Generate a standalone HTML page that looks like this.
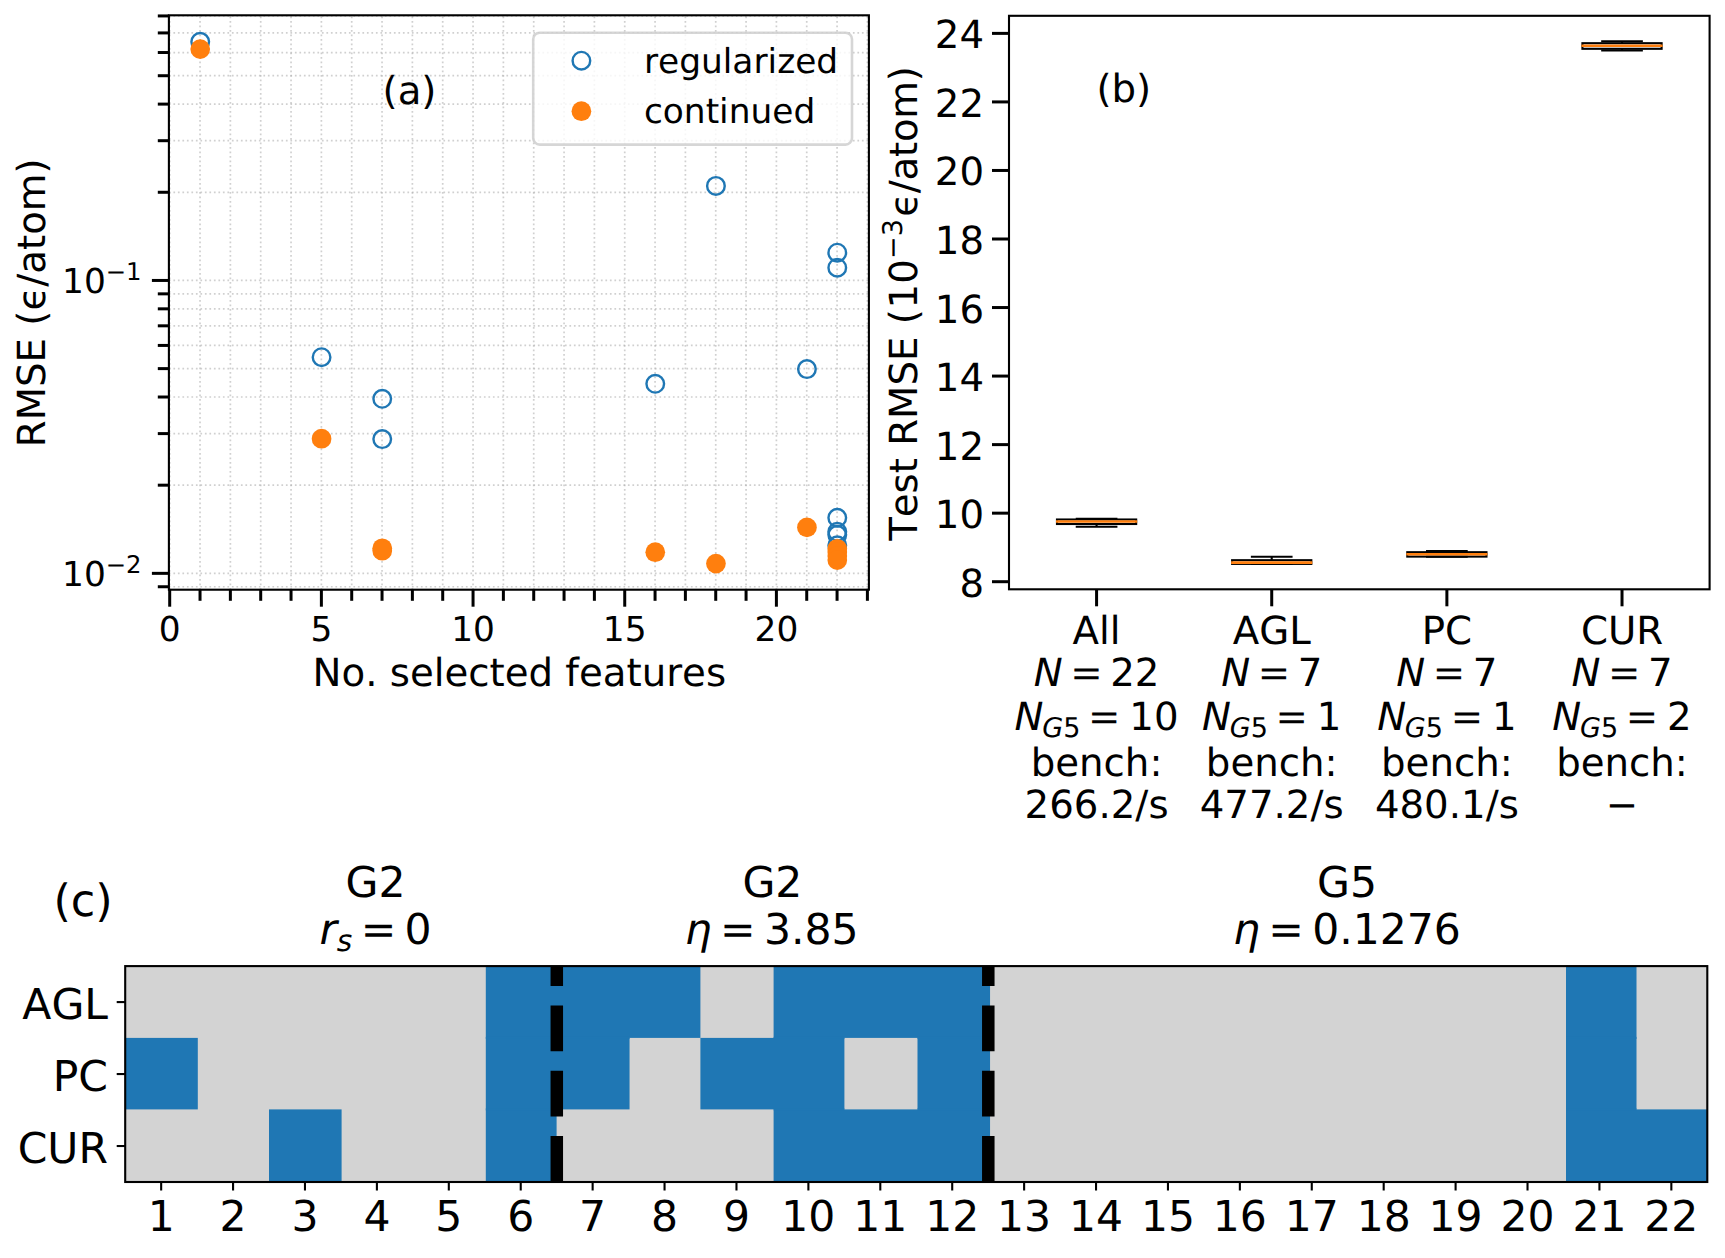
<!DOCTYPE html>
<html lang="en"><head><meta charset="utf-8"><title>Feature selection figure</title>
<style>
html,body{margin:0;padding:0;background:#fff;overflow:hidden;}
svg{display:block;}
svg text{font-family:"DejaVu Sans", "Liberation Sans", sans-serif;fill:#000;font-kerning:none;font-variant-ligatures:none;text-rendering:geometricPrecision;}
</style></head><body>
<svg width="1725" height="1258" viewBox="0 0 1725 1258">
<rect width="1725" height="1258" fill="#fff"/>
<g id="panel-a">
<g stroke="#b0b0b0" stroke-opacity="0.6" stroke-width="1.7" stroke-dasharray="1.7 2.8" fill="none">
<line x1="169.70" y1="589.7" x2="169.70" y2="15.3"/>
<line x1="200.03" y1="589.7" x2="200.03" y2="15.3"/>
<line x1="230.37" y1="589.7" x2="230.37" y2="15.3"/>
<line x1="260.70" y1="589.7" x2="260.70" y2="15.3"/>
<line x1="291.04" y1="589.7" x2="291.04" y2="15.3"/>
<line x1="321.38" y1="589.7" x2="321.38" y2="15.3"/>
<line x1="351.71" y1="589.7" x2="351.71" y2="15.3"/>
<line x1="382.04" y1="589.7" x2="382.04" y2="15.3"/>
<line x1="412.38" y1="589.7" x2="412.38" y2="15.3"/>
<line x1="442.71" y1="589.7" x2="442.71" y2="15.3"/>
<line x1="473.05" y1="589.7" x2="473.05" y2="15.3"/>
<line x1="503.38" y1="589.7" x2="503.38" y2="15.3"/>
<line x1="533.72" y1="589.7" x2="533.72" y2="15.3"/>
<line x1="564.06" y1="589.7" x2="564.06" y2="15.3"/>
<line x1="594.39" y1="589.7" x2="594.39" y2="15.3"/>
<line x1="624.73" y1="589.7" x2="624.73" y2="15.3"/>
<line x1="655.06" y1="589.7" x2="655.06" y2="15.3"/>
<line x1="685.39" y1="589.7" x2="685.39" y2="15.3"/>
<line x1="715.73" y1="589.7" x2="715.73" y2="15.3"/>
<line x1="746.07" y1="589.7" x2="746.07" y2="15.3"/>
<line x1="776.40" y1="589.7" x2="776.40" y2="15.3"/>
<line x1="806.73" y1="589.7" x2="806.73" y2="15.3"/>
<line x1="837.07" y1="589.7" x2="837.07" y2="15.3"/>
<line x1="867.40" y1="589.7" x2="867.40" y2="15.3"/>
<line x1="168.9" y1="586.75" x2="868.9" y2="586.75"/>
<line x1="168.9" y1="485.18" x2="868.9" y2="485.18"/>
<line x1="168.9" y1="433.60" x2="868.9" y2="433.60"/>
<line x1="168.9" y1="397.01" x2="868.9" y2="397.01"/>
<line x1="168.9" y1="368.62" x2="868.9" y2="368.62"/>
<line x1="168.9" y1="345.43" x2="868.9" y2="345.43"/>
<line x1="168.9" y1="325.82" x2="868.9" y2="325.82"/>
<line x1="168.9" y1="308.83" x2="868.9" y2="308.83"/>
<line x1="168.9" y1="293.85" x2="868.9" y2="293.85"/>
<line x1="168.9" y1="192.28" x2="868.9" y2="192.28"/>
<line x1="168.9" y1="140.70" x2="868.9" y2="140.70"/>
<line x1="168.9" y1="104.11" x2="868.9" y2="104.11"/>
<line x1="168.9" y1="75.72" x2="868.9" y2="75.72"/>
<line x1="168.9" y1="52.53" x2="868.9" y2="52.53"/>
<line x1="168.9" y1="32.92" x2="868.9" y2="32.92"/>
<line x1="168.9" y1="15.93" x2="868.9" y2="15.93"/>
<line x1="168.9" y1="573.35" x2="868.9" y2="573.35"/>
<line x1="168.9" y1="280.45" x2="868.9" y2="280.45"/>
</g>
<circle cx="200.23" cy="41.8" r="8.8" fill="none" stroke="#1f77b4" stroke-width="2.4"/>
<circle cx="321.57" cy="357.2" r="8.8" fill="none" stroke="#1f77b4" stroke-width="2.4"/>
<circle cx="382.24" cy="398.8" r="8.8" fill="none" stroke="#1f77b4" stroke-width="2.4"/>
<circle cx="382.24" cy="439.1" r="8.8" fill="none" stroke="#1f77b4" stroke-width="2.4"/>
<circle cx="655.26" cy="383.8" r="8.8" fill="none" stroke="#1f77b4" stroke-width="2.4"/>
<circle cx="715.93" cy="185.9" r="8.8" fill="none" stroke="#1f77b4" stroke-width="2.4"/>
<circle cx="806.93" cy="369.1" r="8.8" fill="none" stroke="#1f77b4" stroke-width="2.4"/>
<circle cx="837.27" cy="252.7" r="8.8" fill="none" stroke="#1f77b4" stroke-width="2.4"/>
<circle cx="837.27" cy="267.7" r="8.8" fill="none" stroke="#1f77b4" stroke-width="2.4"/>
<circle cx="837.27" cy="517.8" r="8.8" fill="none" stroke="#1f77b4" stroke-width="2.4"/>
<circle cx="837.27" cy="531.8" r="8.8" fill="none" stroke="#1f77b4" stroke-width="2.4"/>
<circle cx="837.27" cy="534.8" r="8.8" fill="none" stroke="#1f77b4" stroke-width="2.4"/>
<circle cx="837.27" cy="545.3" r="8.8" fill="none" stroke="#1f77b4" stroke-width="2.4"/>
<circle cx="200.23" cy="49.1" r="9.85" fill="#ff7f0e"/>
<circle cx="321.57" cy="438.7" r="9.85" fill="#ff7f0e"/>
<circle cx="382.24" cy="548.3" r="9.85" fill="#ff7f0e"/>
<circle cx="382.24" cy="550.7" r="9.85" fill="#ff7f0e"/>
<circle cx="655.26" cy="552.2" r="9.85" fill="#ff7f0e"/>
<circle cx="715.93" cy="563.6" r="9.85" fill="#ff7f0e"/>
<circle cx="806.93" cy="527.4" r="9.85" fill="#ff7f0e"/>
<circle cx="837.27" cy="548.8" r="9.85" fill="#ff7f0e"/>
<circle cx="837.27" cy="552" r="9.85" fill="#ff7f0e"/>
<circle cx="837.27" cy="556" r="9.85" fill="#ff7f0e"/>
<circle cx="837.27" cy="560.1" r="9.85" fill="#ff7f0e"/>
<line x1="169.70" y1="589.70" x2="169.70" y2="606.70" stroke="#000" stroke-width="3.0"/>
<line x1="200.03" y1="589.70" x2="200.03" y2="600.80" stroke="#000" stroke-width="3.0"/>
<line x1="230.37" y1="589.70" x2="230.37" y2="600.80" stroke="#000" stroke-width="3.0"/>
<line x1="260.70" y1="589.70" x2="260.70" y2="600.80" stroke="#000" stroke-width="3.0"/>
<line x1="291.04" y1="589.70" x2="291.04" y2="600.80" stroke="#000" stroke-width="3.0"/>
<line x1="321.38" y1="589.70" x2="321.38" y2="606.70" stroke="#000" stroke-width="3.0"/>
<line x1="351.71" y1="589.70" x2="351.71" y2="600.80" stroke="#000" stroke-width="3.0"/>
<line x1="382.04" y1="589.70" x2="382.04" y2="600.80" stroke="#000" stroke-width="3.0"/>
<line x1="412.38" y1="589.70" x2="412.38" y2="600.80" stroke="#000" stroke-width="3.0"/>
<line x1="442.71" y1="589.70" x2="442.71" y2="600.80" stroke="#000" stroke-width="3.0"/>
<line x1="473.05" y1="589.70" x2="473.05" y2="606.70" stroke="#000" stroke-width="3.0"/>
<line x1="503.38" y1="589.70" x2="503.38" y2="600.80" stroke="#000" stroke-width="3.0"/>
<line x1="533.72" y1="589.70" x2="533.72" y2="600.80" stroke="#000" stroke-width="3.0"/>
<line x1="564.06" y1="589.70" x2="564.06" y2="600.80" stroke="#000" stroke-width="3.0"/>
<line x1="594.39" y1="589.70" x2="594.39" y2="600.80" stroke="#000" stroke-width="3.0"/>
<line x1="624.73" y1="589.70" x2="624.73" y2="606.70" stroke="#000" stroke-width="3.0"/>
<line x1="655.06" y1="589.70" x2="655.06" y2="600.80" stroke="#000" stroke-width="3.0"/>
<line x1="685.39" y1="589.70" x2="685.39" y2="600.80" stroke="#000" stroke-width="3.0"/>
<line x1="715.73" y1="589.70" x2="715.73" y2="600.80" stroke="#000" stroke-width="3.0"/>
<line x1="746.07" y1="589.70" x2="746.07" y2="600.80" stroke="#000" stroke-width="3.0"/>
<line x1="776.40" y1="589.70" x2="776.40" y2="606.70" stroke="#000" stroke-width="3.0"/>
<line x1="806.73" y1="589.70" x2="806.73" y2="600.80" stroke="#000" stroke-width="3.0"/>
<line x1="837.07" y1="589.70" x2="837.07" y2="600.80" stroke="#000" stroke-width="3.0"/>
<line x1="867.40" y1="589.70" x2="867.40" y2="600.80" stroke="#000" stroke-width="3.0"/>
<line x1="168.90" y1="586.75" x2="157.80" y2="586.75" stroke="#000" stroke-width="3.0"/>
<line x1="168.90" y1="485.18" x2="157.80" y2="485.18" stroke="#000" stroke-width="3.0"/>
<line x1="168.90" y1="433.60" x2="157.80" y2="433.60" stroke="#000" stroke-width="3.0"/>
<line x1="168.90" y1="397.01" x2="157.80" y2="397.01" stroke="#000" stroke-width="3.0"/>
<line x1="168.90" y1="368.62" x2="157.80" y2="368.62" stroke="#000" stroke-width="3.0"/>
<line x1="168.90" y1="345.43" x2="157.80" y2="345.43" stroke="#000" stroke-width="3.0"/>
<line x1="168.90" y1="325.82" x2="157.80" y2="325.82" stroke="#000" stroke-width="3.0"/>
<line x1="168.90" y1="308.83" x2="157.80" y2="308.83" stroke="#000" stroke-width="3.0"/>
<line x1="168.90" y1="293.85" x2="157.80" y2="293.85" stroke="#000" stroke-width="3.0"/>
<line x1="168.90" y1="192.28" x2="157.80" y2="192.28" stroke="#000" stroke-width="3.0"/>
<line x1="168.90" y1="140.70" x2="157.80" y2="140.70" stroke="#000" stroke-width="3.0"/>
<line x1="168.90" y1="104.11" x2="157.80" y2="104.11" stroke="#000" stroke-width="3.0"/>
<line x1="168.90" y1="75.72" x2="157.80" y2="75.72" stroke="#000" stroke-width="3.0"/>
<line x1="168.90" y1="52.53" x2="157.80" y2="52.53" stroke="#000" stroke-width="3.0"/>
<line x1="168.90" y1="32.92" x2="157.80" y2="32.92" stroke="#000" stroke-width="3.0"/>
<line x1="168.90" y1="15.93" x2="157.80" y2="15.93" stroke="#000" stroke-width="3.0"/>
<line x1="168.90" y1="573.35" x2="151.90" y2="573.35" stroke="#000" stroke-width="3.0"/>
<line x1="168.90" y1="280.45" x2="151.90" y2="280.45" stroke="#000" stroke-width="3.0"/>
<rect x="168.9" y="15.3" width="700.0" height="574.4000000000001" fill="none" stroke="#000" stroke-width="2.1"/>
<text x="169.70" y="640.90" font-size="34.4" text-anchor="middle">0</text>
<text x="321.38" y="640.90" font-size="34.4" text-anchor="middle">5</text>
<text x="473.05" y="640.90" font-size="34.4" text-anchor="middle">10</text>
<text x="624.73" y="640.90" font-size="34.4" text-anchor="middle">15</text>
<text x="776.40" y="640.90" font-size="34.4" text-anchor="middle">20</text>
<text x="62.10" y="293.05" font-size="34.4" text-anchor="start">10</text>
<text x="105.70" y="280.05" font-size="24.3" text-anchor="start">−1</text>
<text x="62.10" y="585.95" font-size="34.4" text-anchor="start">10</text>
<text x="105.70" y="572.95" font-size="24.3" text-anchor="start">−2</text>
<text x="519.30" y="685.70" font-size="38.7" text-anchor="middle">No. selected features</text>
<text x="45.20" y="302.80" font-size="38.7" text-anchor="middle" transform="rotate(-90 45.20 302.80)">RMSE (ϵ/atom)</text>
<text x="409.50" y="103.60" font-size="38.7" text-anchor="middle">(a)</text>
<rect x="533.2" y="32.7" width="318.8" height="111.9" rx="6.5" fill="#fff" fill-opacity="0.8" stroke="#ccc" stroke-opacity="0.8" stroke-width="2.6"/>
<circle cx="581.4" cy="60.7" r="8.8" fill="none" stroke="#1f77b4" stroke-width="2.4"/>
<circle cx="581.4" cy="111.2" r="9.85" fill="#ff7f0e"/>
<text x="643.90" y="72.70" font-size="34.4" text-anchor="start">regularized</text>
<text x="643.90" y="123.20" font-size="34.4" text-anchor="start">continued</text>
</g>
<g id="panel-b">
<line x1="1096.58" y1="518.90" x2="1096.58" y2="519.50" stroke="#000" stroke-width="2.1"/>
<line x1="1096.58" y1="524.00" x2="1096.58" y2="526.70" stroke="#000" stroke-width="2.1"/>
<line x1="1076.78" y1="518.90" x2="1116.38" y2="518.90" stroke="#000" stroke-width="2.1" stroke-linecap="square"/>
<line x1="1076.78" y1="526.70" x2="1116.38" y2="526.70" stroke="#000" stroke-width="2.1" stroke-linecap="square"/>
<rect x="1056.98" y="519.5" width="79.2" height="4.50" fill="none" stroke="#000" stroke-width="2.1"/>
<line x1="1055.98" y1="521.50" x2="1137.17" y2="521.50" stroke="#ff7f0e" stroke-width="2.6"/>
<line x1="1271.72" y1="556.70" x2="1271.72" y2="560.20" stroke="#000" stroke-width="2.1"/>
<line x1="1271.72" y1="563.90" x2="1271.72" y2="563.90" stroke="#000" stroke-width="2.1"/>
<line x1="1251.92" y1="556.70" x2="1291.52" y2="556.70" stroke="#000" stroke-width="2.1" stroke-linecap="square"/>
<line x1="1251.92" y1="563.90" x2="1291.52" y2="563.90" stroke="#000" stroke-width="2.1" stroke-linecap="square"/>
<rect x="1232.12" y="560.2" width="79.2" height="3.70" fill="none" stroke="#000" stroke-width="2.1"/>
<line x1="1231.12" y1="562.60" x2="1312.32" y2="562.60" stroke="#ff7f0e" stroke-width="2.6"/>
<line x1="1446.88" y1="551.00" x2="1446.88" y2="552.20" stroke="#000" stroke-width="2.1"/>
<line x1="1446.88" y1="556.60" x2="1446.88" y2="556.80" stroke="#000" stroke-width="2.1"/>
<line x1="1427.08" y1="551.00" x2="1466.67" y2="551.00" stroke="#000" stroke-width="2.1" stroke-linecap="square"/>
<line x1="1427.08" y1="556.80" x2="1466.67" y2="556.80" stroke="#000" stroke-width="2.1" stroke-linecap="square"/>
<rect x="1407.28" y="552.2" width="79.2" height="4.40" fill="none" stroke="#000" stroke-width="2.1"/>
<line x1="1406.28" y1="554.20" x2="1487.47" y2="554.20" stroke="#ff7f0e" stroke-width="2.6"/>
<line x1="1622.02" y1="41.30" x2="1622.02" y2="43.20" stroke="#000" stroke-width="2.1"/>
<line x1="1622.02" y1="48.80" x2="1622.02" y2="50.50" stroke="#000" stroke-width="2.1"/>
<line x1="1602.22" y1="41.30" x2="1641.82" y2="41.30" stroke="#000" stroke-width="2.1" stroke-linecap="square"/>
<line x1="1602.22" y1="50.50" x2="1641.82" y2="50.50" stroke="#000" stroke-width="2.1" stroke-linecap="square"/>
<rect x="1582.42" y="43.2" width="79.2" height="5.60" fill="none" stroke="#000" stroke-width="2.1"/>
<line x1="1581.42" y1="45.70" x2="1662.62" y2="45.70" stroke="#ff7f0e" stroke-width="2.6"/>
<line x1="1009.00" y1="581.70" x2="992.00" y2="581.70" stroke="#000" stroke-width="3.0"/>
<text x="984.10" y="596.70" font-size="38.7" text-anchor="end">8</text>
<line x1="1009.00" y1="513.16" x2="992.00" y2="513.16" stroke="#000" stroke-width="3.0"/>
<text x="984.10" y="528.16" font-size="38.7" text-anchor="end">10</text>
<line x1="1009.00" y1="444.62" x2="992.00" y2="444.62" stroke="#000" stroke-width="3.0"/>
<text x="984.10" y="459.62" font-size="38.7" text-anchor="end">12</text>
<line x1="1009.00" y1="376.08" x2="992.00" y2="376.08" stroke="#000" stroke-width="3.0"/>
<text x="984.10" y="391.08" font-size="38.7" text-anchor="end">14</text>
<line x1="1009.00" y1="307.54" x2="992.00" y2="307.54" stroke="#000" stroke-width="3.0"/>
<text x="984.10" y="322.54" font-size="38.7" text-anchor="end">16</text>
<line x1="1009.00" y1="239.00" x2="992.00" y2="239.00" stroke="#000" stroke-width="3.0"/>
<text x="984.10" y="254.00" font-size="38.7" text-anchor="end">18</text>
<line x1="1009.00" y1="170.46" x2="992.00" y2="170.46" stroke="#000" stroke-width="3.0"/>
<text x="984.10" y="185.46" font-size="38.7" text-anchor="end">20</text>
<line x1="1009.00" y1="101.92" x2="992.00" y2="101.92" stroke="#000" stroke-width="3.0"/>
<text x="984.10" y="116.92" font-size="38.7" text-anchor="end">22</text>
<line x1="1009.00" y1="33.38" x2="992.00" y2="33.38" stroke="#000" stroke-width="3.0"/>
<text x="984.10" y="48.38" font-size="38.7" text-anchor="end">24</text>
<line x1="1096.58" y1="589.30" x2="1096.58" y2="606.30" stroke="#000" stroke-width="3.0"/>
<line x1="1271.72" y1="589.30" x2="1271.72" y2="606.30" stroke="#000" stroke-width="3.0"/>
<line x1="1446.88" y1="589.30" x2="1446.88" y2="606.30" stroke="#000" stroke-width="3.0"/>
<line x1="1622.02" y1="589.30" x2="1622.02" y2="606.30" stroke="#000" stroke-width="3.0"/>
<rect x="1009.0" y="15.8" width="700.5999999999999" height="573.5" fill="none" stroke="#000" stroke-width="2.1"/>
<text x="1096.58" y="644.00" font-size="38.7" text-anchor="middle">All</text>
<text x="1033.72" y="686.00" font-size="38.7" text-anchor="start" font-style="italic">N</text>
<text x="1070.21" y="686.00" font-size="38.7" text-anchor="start">=</text>
<text x="1110.19" y="686.00" font-size="38.7" text-anchor="start">22</text>
<text x="1014.61" y="730.30" font-size="38.7" text-anchor="start" font-style="italic">N</text>
<text x="1042.24" y="736.80" font-size="27.09" text-anchor="start" font-style="italic">G</text>
<text x="1063.24" y="736.80" font-size="27.09" text-anchor="start">5</text>
<text x="1088.01" y="730.30" font-size="38.7" text-anchor="start">=</text>
<text x="1129.29" y="730.30" font-size="38.7" text-anchor="start">10</text>
<text x="1096.58" y="776.20" font-size="38.7" text-anchor="middle">bench:</text>
<text x="1096.58" y="818.00" font-size="38.7" text-anchor="middle">266.2/s</text>
<text x="1271.72" y="644.00" font-size="38.7" text-anchor="middle">AGL</text>
<text x="1221.18" y="686.00" font-size="38.7" text-anchor="start" font-style="italic">N</text>
<text x="1257.67" y="686.00" font-size="38.7" text-anchor="start">=</text>
<text x="1297.65" y="686.00" font-size="38.7" text-anchor="start">7</text>
<text x="1202.07" y="730.30" font-size="38.7" text-anchor="start" font-style="italic">N</text>
<text x="1229.71" y="736.80" font-size="27.09" text-anchor="start" font-style="italic">G</text>
<text x="1250.70" y="736.80" font-size="27.09" text-anchor="start">5</text>
<text x="1275.48" y="730.30" font-size="38.7" text-anchor="start">=</text>
<text x="1316.75" y="730.30" font-size="38.7" text-anchor="start">1</text>
<text x="1271.72" y="776.20" font-size="38.7" text-anchor="middle">bench:</text>
<text x="1271.72" y="818.00" font-size="38.7" text-anchor="middle">477.2/s</text>
<text x="1446.88" y="644.00" font-size="38.7" text-anchor="middle">PC</text>
<text x="1396.33" y="686.00" font-size="38.7" text-anchor="start" font-style="italic">N</text>
<text x="1432.82" y="686.00" font-size="38.7" text-anchor="start">=</text>
<text x="1472.80" y="686.00" font-size="38.7" text-anchor="start">7</text>
<text x="1377.22" y="730.30" font-size="38.7" text-anchor="start" font-style="italic">N</text>
<text x="1404.86" y="736.80" font-size="27.09" text-anchor="start" font-style="italic">G</text>
<text x="1425.85" y="736.80" font-size="27.09" text-anchor="start">5</text>
<text x="1450.63" y="730.30" font-size="38.7" text-anchor="start">=</text>
<text x="1491.90" y="730.30" font-size="38.7" text-anchor="start">1</text>
<text x="1446.88" y="776.20" font-size="38.7" text-anchor="middle">bench:</text>
<text x="1446.88" y="818.00" font-size="38.7" text-anchor="middle">480.1/s</text>
<text x="1622.02" y="644.00" font-size="38.7" text-anchor="middle">CUR</text>
<text x="1571.48" y="686.00" font-size="38.7" text-anchor="start" font-style="italic">N</text>
<text x="1607.97" y="686.00" font-size="38.7" text-anchor="start">=</text>
<text x="1647.95" y="686.00" font-size="38.7" text-anchor="start">7</text>
<text x="1552.37" y="730.30" font-size="38.7" text-anchor="start" font-style="italic">N</text>
<text x="1580.01" y="736.80" font-size="27.09" text-anchor="start" font-style="italic">G</text>
<text x="1601.00" y="736.80" font-size="27.09" text-anchor="start">5</text>
<text x="1625.78" y="730.30" font-size="38.7" text-anchor="start">=</text>
<text x="1667.05" y="730.30" font-size="38.7" text-anchor="start">2</text>
<text x="1622.02" y="776.20" font-size="38.7" text-anchor="middle">bench:</text>
<text x="1622.02" y="818.00" font-size="38.7" text-anchor="middle">−</text>
<text x="916.70" y="309.10" font-size="38.7" text-anchor="end" transform="rotate(-90 916.70 309.10)">Test RMSE (</text>
<text x="916.70" y="308.40" font-size="38.7" text-anchor="start" transform="rotate(-90 916.70 308.40)">10</text>
<text x="901.90" y="259.00" font-size="27.1" text-anchor="start" transform="rotate(-90 901.90 259.00)">−3</text>
<text x="916.70" y="216.80" font-size="38.7" text-anchor="start" transform="rotate(-90 916.70 216.80)" letter-spacing="-0.25">ϵ/atom)</text>
<text x="1123.80" y="102.10" font-size="38.7" text-anchor="middle">(b)</text>
</g>
<g id="panel-c">
<rect x="125.2" y="966.1" width="1582.1" height="215.89999999999998" fill="#d3d3d3"/>
<rect x="485.80" y="966.10" width="214.60" height="71.80" fill="#1f77b4"/>
<rect x="773.60" y="966.10" width="216.45" height="71.80" fill="#1f77b4"/>
<rect x="1566.00" y="966.10" width="70.50" height="71.80" fill="#1f77b4"/>
<rect x="125.20" y="1037.90" width="72.60" height="71.50" fill="#1f77b4"/>
<rect x="485.80" y="1037.90" width="143.75" height="71.50" fill="#1f77b4"/>
<rect x="700.40" y="1037.90" width="144.00" height="71.50" fill="#1f77b4"/>
<rect x="917.50" y="1037.90" width="72.55" height="71.50" fill="#1f77b4"/>
<rect x="1566.00" y="1037.90" width="70.50" height="71.50" fill="#1f77b4"/>
<rect x="269.00" y="1109.40" width="72.60" height="72.60" fill="#1f77b4"/>
<rect x="485.80" y="1109.40" width="70.80" height="72.60" fill="#1f77b4"/>
<rect x="773.60" y="1109.40" width="216.45" height="72.60" fill="#1f77b4"/>
<rect x="1566.00" y="1109.40" width="141.30" height="72.60" fill="#1f77b4"/>
<rect x="485.80" y="1036.90" width="143.75" height="2" fill="#1f77b4"/>
<rect x="773.60" y="1036.90" width="70.80" height="2" fill="#1f77b4"/>
<rect x="917.50" y="1036.90" width="72.55" height="2" fill="#1f77b4"/>
<rect x="1566.00" y="1036.90" width="70.50" height="2" fill="#1f77b4"/>
<rect x="485.80" y="1108.40" width="70.80" height="2" fill="#1f77b4"/>
<rect x="773.60" y="1108.40" width="70.80" height="2" fill="#1f77b4"/>
<rect x="917.50" y="1108.40" width="72.55" height="2" fill="#1f77b4"/>
<rect x="1566.00" y="1108.40" width="70.50" height="2" fill="#1f77b4"/>
<line x1="556.80" y1="1181.60" x2="556.80" y2="966.1" stroke="#000" stroke-width="12.5" stroke-dasharray="45.6 19.6"/>
<line x1="988.30" y1="1181.60" x2="988.30" y2="966.1" stroke="#000" stroke-width="12.5" stroke-dasharray="45.6 19.6"/>
<line x1="161.16" y1="1182.00" x2="161.16" y2="1190.50" stroke="#000" stroke-width="2.1"/>
<text x="161.16" y="1231.40" font-size="42.5" text-anchor="middle">1</text>
<line x1="233.07" y1="1182.00" x2="233.07" y2="1190.50" stroke="#000" stroke-width="2.1"/>
<text x="233.07" y="1231.40" font-size="42.5" text-anchor="middle">2</text>
<line x1="304.98" y1="1182.00" x2="304.98" y2="1190.50" stroke="#000" stroke-width="2.1"/>
<text x="304.98" y="1231.40" font-size="42.5" text-anchor="middle">3</text>
<line x1="376.90" y1="1182.00" x2="376.90" y2="1190.50" stroke="#000" stroke-width="2.1"/>
<text x="376.90" y="1231.40" font-size="42.5" text-anchor="middle">4</text>
<line x1="448.81" y1="1182.00" x2="448.81" y2="1190.50" stroke="#000" stroke-width="2.1"/>
<text x="448.81" y="1231.40" font-size="42.5" text-anchor="middle">5</text>
<line x1="520.73" y1="1182.00" x2="520.73" y2="1190.50" stroke="#000" stroke-width="2.1"/>
<text x="520.73" y="1231.40" font-size="42.5" text-anchor="middle">6</text>
<line x1="592.64" y1="1182.00" x2="592.64" y2="1190.50" stroke="#000" stroke-width="2.1"/>
<text x="592.64" y="1231.40" font-size="42.5" text-anchor="middle">7</text>
<line x1="664.55" y1="1182.00" x2="664.55" y2="1190.50" stroke="#000" stroke-width="2.1"/>
<text x="664.55" y="1231.40" font-size="42.5" text-anchor="middle">8</text>
<line x1="736.47" y1="1182.00" x2="736.47" y2="1190.50" stroke="#000" stroke-width="2.1"/>
<text x="736.47" y="1231.40" font-size="42.5" text-anchor="middle">9</text>
<line x1="808.38" y1="1182.00" x2="808.38" y2="1190.50" stroke="#000" stroke-width="2.1"/>
<text x="808.38" y="1231.40" font-size="42.5" text-anchor="middle">10</text>
<line x1="880.29" y1="1182.00" x2="880.29" y2="1190.50" stroke="#000" stroke-width="2.1"/>
<text x="880.29" y="1231.40" font-size="42.5" text-anchor="middle">11</text>
<line x1="952.21" y1="1182.00" x2="952.21" y2="1190.50" stroke="#000" stroke-width="2.1"/>
<text x="952.21" y="1231.40" font-size="42.5" text-anchor="middle">12</text>
<line x1="1024.12" y1="1182.00" x2="1024.12" y2="1190.50" stroke="#000" stroke-width="2.1"/>
<text x="1024.12" y="1231.40" font-size="42.5" text-anchor="middle">13</text>
<line x1="1096.03" y1="1182.00" x2="1096.03" y2="1190.50" stroke="#000" stroke-width="2.1"/>
<text x="1096.03" y="1231.40" font-size="42.5" text-anchor="middle">14</text>
<line x1="1167.95" y1="1182.00" x2="1167.95" y2="1190.50" stroke="#000" stroke-width="2.1"/>
<text x="1167.95" y="1231.40" font-size="42.5" text-anchor="middle">15</text>
<line x1="1239.86" y1="1182.00" x2="1239.86" y2="1190.50" stroke="#000" stroke-width="2.1"/>
<text x="1239.86" y="1231.40" font-size="42.5" text-anchor="middle">16</text>
<line x1="1311.77" y1="1182.00" x2="1311.77" y2="1190.50" stroke="#000" stroke-width="2.1"/>
<text x="1311.77" y="1231.40" font-size="42.5" text-anchor="middle">17</text>
<line x1="1383.69" y1="1182.00" x2="1383.69" y2="1190.50" stroke="#000" stroke-width="2.1"/>
<text x="1383.69" y="1231.40" font-size="42.5" text-anchor="middle">18</text>
<line x1="1455.60" y1="1182.00" x2="1455.60" y2="1190.50" stroke="#000" stroke-width="2.1"/>
<text x="1455.60" y="1231.40" font-size="42.5" text-anchor="middle">19</text>
<line x1="1527.52" y1="1182.00" x2="1527.52" y2="1190.50" stroke="#000" stroke-width="2.1"/>
<text x="1527.52" y="1231.40" font-size="42.5" text-anchor="middle">20</text>
<line x1="1599.43" y1="1182.00" x2="1599.43" y2="1190.50" stroke="#000" stroke-width="2.1"/>
<text x="1599.43" y="1231.40" font-size="42.5" text-anchor="middle">21</text>
<line x1="1671.34" y1="1182.00" x2="1671.34" y2="1190.50" stroke="#000" stroke-width="2.1"/>
<text x="1671.34" y="1231.40" font-size="42.5" text-anchor="middle">22</text>
<line x1="125.20" y1="1002.08" x2="116.70" y2="1002.08" stroke="#000" stroke-width="2.1"/>
<text x="108.00" y="1018.58" font-size="42.5" text-anchor="end">AGL</text>
<line x1="125.20" y1="1074.05" x2="116.70" y2="1074.05" stroke="#000" stroke-width="2.1"/>
<text x="108.00" y="1090.55" font-size="42.5" text-anchor="end">PC</text>
<line x1="125.20" y1="1146.02" x2="116.70" y2="1146.02" stroke="#000" stroke-width="2.1"/>
<text x="108.00" y="1162.52" font-size="42.5" text-anchor="end">CUR</text>
<rect x="125.2" y="966.1" width="1582.1" height="215.89999999999998" fill="none" stroke="#000" stroke-width="2.1"/>
<text x="83.10" y="916.20" font-size="44.6" text-anchor="middle">(c)</text>
<text x="375.50" y="897.00" font-size="42.5" text-anchor="middle">G2</text>
<text x="319.41" y="944.20" font-size="42.5" text-anchor="start" font-style="italic">r</text>
<text x="336.87" y="951.00" font-size="29.75" text-anchor="start" font-style="italic">s</text>
<text x="360.66" y="944.20" font-size="42.5" text-anchor="start">=</text>
<text x="404.56" y="944.20" font-size="42.5" text-anchor="start">0</text>
<text x="772.40" y="897.00" font-size="42.5" text-anchor="middle">G2</text>
<text x="684.81" y="944.20" font-size="42.5" text-anchor="start" font-style="italic">η</text>
<text x="720.05" y="944.20" font-size="42.5" text-anchor="start">=</text>
<text x="763.95" y="944.20" font-size="42.5" text-anchor="start">3.85</text>
<text x="1347.00" y="897.00" font-size="42.5" text-anchor="middle">G5</text>
<text x="1233.07" y="944.20" font-size="42.5" text-anchor="start" font-style="italic">η</text>
<text x="1268.31" y="944.20" font-size="42.5" text-anchor="start">=</text>
<text x="1312.21" y="944.20" font-size="42.5" text-anchor="start">0.1276</text>
</g>
</svg>
</body></html>
